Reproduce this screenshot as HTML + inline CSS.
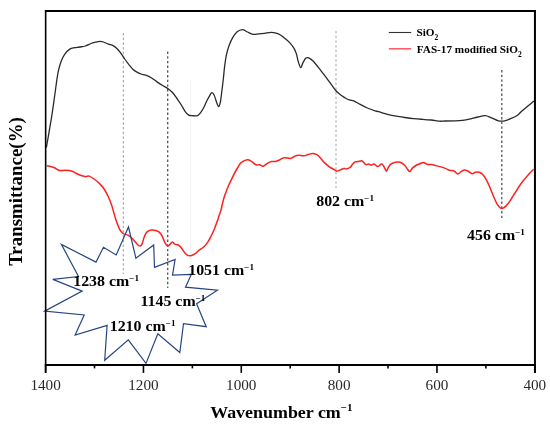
<!DOCTYPE html>
<html><head><meta charset="utf-8"><style>
html,body{margin:0;padding:0;background:#fff;}
svg{display:block;filter:blur(0.3px);}
text{font-family:"Liberation Serif","Times New Roman",serif;}
</style></head><body>
<svg width="550" height="425" viewBox="0 0 550 425">
<rect width="550" height="425" fill="#fff"/>
<g stroke-width="1" fill="none">
<line x1="123.3" y1="33" x2="123.3" y2="274" stroke="#9a9a9a" stroke-dasharray="2.4,2.3"/>
<line x1="167.7" y1="51.5" x2="167.7" y2="288" stroke="#555" stroke-width="1.3" stroke-dasharray="2.4,2.3"/>
<line x1="190.8" y1="80" x2="190.8" y2="265" stroke="#f3f3f3"/>
<line x1="336" y1="31" x2="336" y2="188" stroke="#a4a4a4" stroke-dasharray="2.4,2.3"/>
<line x1="501.8" y1="70" x2="501.8" y2="220" stroke="#555" stroke-width="1.3" stroke-dasharray="2.4,2.3"/>
</g>
<path d="M46.4,147.5 C46.8,145.0 48.2,137.3 49.0,132.4 C49.8,127.5 50.6,123.0 51.4,118.3 C52.1,113.6 52.9,108.5 53.5,104.1 C54.1,99.7 54.7,95.8 55.2,92.0 C55.7,88.2 56.1,85.2 56.6,81.6 C57.1,78.0 57.7,73.7 58.5,70.3 C59.3,66.9 60.2,63.8 61.3,61.1 C62.3,58.4 63.4,56.1 64.8,54.1 C66.2,52.1 68.1,50.2 69.8,49.1 C71.5,48.0 73.0,48.1 74.7,47.7 C76.4,47.4 77.9,47.3 79.7,47.0 C81.5,46.7 83.4,46.6 85.3,46.0 C87.2,45.4 89.3,44.1 91.0,43.5 C92.7,42.9 94.0,42.6 95.5,42.2 C97.0,41.8 98.6,41.3 99.9,41.3 C101.2,41.3 102.1,41.5 103.5,42.0 C104.9,42.5 106.8,43.5 108.4,44.1 C110.1,44.7 112.0,45.1 113.4,45.8 C114.8,46.5 115.7,47.3 116.9,48.4 C118.1,49.5 119.1,50.8 120.4,52.6 C121.7,54.4 123.3,57.0 124.7,59.0 C126.1,61.0 127.5,62.8 128.9,64.6 C130.3,66.3 131.7,68.2 133.1,69.5 C134.5,70.8 136.1,71.7 137.4,72.4 C138.7,73.2 139.6,73.5 141.0,74.0 C142.4,74.5 143.9,74.6 145.6,75.2 C147.3,75.8 149.4,76.6 151.3,77.7 C153.2,78.8 155.1,80.6 157.0,81.9 C158.9,83.2 160.7,84.4 162.6,85.5 C164.5,86.6 166.5,87.5 168.2,88.7 C169.8,89.9 171.1,90.9 172.5,92.5 C173.9,94.1 175.3,96.2 176.7,98.2 C178.1,100.2 179.6,102.3 181.0,104.5 C182.4,106.7 183.9,109.8 185.2,111.6 C186.5,113.4 187.5,114.4 188.7,115.1 C189.9,115.8 190.8,115.6 192.3,115.7 C193.8,115.8 196.2,116.1 197.6,115.6 C199.0,115.1 199.6,113.9 200.6,112.6 C201.6,111.3 202.4,110.0 203.5,108.0 C204.6,106.0 206.1,102.3 207.1,100.3 C208.1,98.3 208.6,97.5 209.4,96.2 C210.2,94.9 211.0,92.8 211.8,92.6 C212.6,92.4 213.3,93.4 214.1,95.0 C214.9,96.6 215.8,100.1 216.5,102.0 C217.2,103.9 217.9,106.5 218.6,106.5 C219.2,106.5 219.9,104.5 220.4,102.0 C220.9,99.5 221.3,95.2 221.8,91.5 C222.3,87.8 222.7,84.2 223.2,80.0 C223.7,75.8 224.1,70.7 224.6,66.6 C225.1,62.5 225.6,58.8 226.3,55.3 C227.1,51.8 228.0,48.3 229.1,45.4 C230.2,42.5 231.4,39.9 232.7,37.7 C234.0,35.5 235.3,33.4 236.9,32.0 C238.5,30.6 240.7,29.6 242.5,29.6 C244.3,29.6 245.7,31.2 247.5,32.0 C249.3,32.8 251.2,34.1 253.1,34.4 C255.0,34.7 256.9,34.0 258.8,33.8 C260.7,33.6 262.3,33.6 264.4,33.4 C266.5,33.2 269.0,32.3 271.3,32.4 C273.6,32.5 276.3,32.9 278.4,33.8 C280.5,34.7 282.1,36.2 284.0,37.7 C285.9,39.2 288.1,40.9 289.7,42.6 C291.3,44.4 292.8,46.3 293.9,48.2 C295.0,50.1 295.7,51.8 296.4,53.9 C297.1,56.0 297.4,58.7 298.1,61.0 C298.8,63.3 299.9,67.5 300.7,67.7 C301.5,67.9 302.2,64.0 303.1,62.4 C304.0,60.8 305.0,58.9 305.9,58.1 C306.8,57.4 307.5,57.4 308.7,57.9 C309.9,58.4 311.1,59.1 313.0,61.0 C314.9,62.9 317.6,66.4 319.8,69.2 C322.0,72.0 324.3,74.9 326.3,77.6 C328.3,80.3 330.4,83.2 332.0,85.4 C333.6,87.6 334.7,89.3 336.2,91.0 C337.7,92.7 339.5,94.0 341.1,95.3 C342.8,96.5 344.6,97.7 346.1,98.5 C347.6,99.3 349.0,99.8 350.3,100.2 C351.6,100.6 352.2,100.2 353.8,100.9 C355.4,101.6 357.9,103.2 360.2,104.4 C362.4,105.6 364.8,106.9 367.3,108.0 C369.8,109.1 373.1,110.2 375.0,110.8 C376.9,111.4 376.6,111.1 378.7,111.7 C380.8,112.3 384.6,113.6 387.5,114.3 C390.4,115.0 393.3,115.6 396.2,116.1 C399.1,116.6 402.0,117.1 404.9,117.5 C407.8,117.9 410.7,118.3 413.6,118.6 C416.5,118.9 419.5,119.1 422.4,119.3 C425.3,119.5 428.2,119.7 431.1,120.0 C434.0,120.3 437.5,121.0 439.8,121.2 C442.1,121.4 442.4,121.0 445.0,121.0 C447.6,121.0 452.5,121.0 455.4,120.9 C458.3,120.8 460.0,120.7 462.3,120.4 C464.6,120.1 466.6,119.8 469.2,119.2 C471.8,118.6 475.1,117.6 477.8,117.0 C480.5,116.4 482.8,115.6 485.1,115.7 C487.4,115.8 489.4,117.0 491.6,117.8 C493.8,118.6 496.3,120.3 498.5,120.8 C500.7,121.3 502.6,121.2 504.6,120.9 C506.6,120.6 508.5,119.7 510.6,118.7 C512.8,117.8 515.6,116.5 517.5,115.2 C519.4,113.9 520.2,112.4 521.9,110.9 C523.6,109.4 525.9,107.8 527.9,106.1 C529.9,104.4 532.9,101.8 533.9,100.9" fill="none" stroke="#2a2a2a" stroke-width="1.3" stroke-linejoin="round"/>
<path d="M46.8,165.8 C47.4,165.9 49.1,166.2 50.4,166.5 C51.7,166.8 53.1,167.0 54.6,167.7 C56.1,168.4 57.7,170.1 59.5,170.5 C61.3,170.9 63.1,170.1 65.2,170.2 C67.3,170.3 70.1,170.5 72.2,171.2 C74.3,171.9 75.8,173.4 77.9,174.3 C80.0,175.2 83.1,176.3 85.0,176.6 C86.9,176.9 87.7,175.7 89.2,176.1 C90.7,176.5 92.3,177.7 94.1,179.0 C95.9,180.3 98.1,182.2 99.8,183.9 C101.5,185.6 102.7,186.9 104.1,189.0 C105.5,191.1 107.0,193.9 108.2,196.5 C109.4,199.1 110.5,201.9 111.5,204.7 C112.5,207.4 113.1,210.2 113.9,213.0 C114.7,215.8 115.4,218.5 116.4,221.2 C117.4,223.9 118.6,227.3 119.7,229.4 C120.8,231.5 121.6,232.5 123.0,233.5 C124.4,234.5 126.3,234.2 128.0,235.2 C129.7,236.2 131.4,237.8 132.9,239.3 C134.4,240.8 136.0,243.1 137.2,244.2 C138.4,245.3 139.1,246.1 139.9,246.1 C140.7,246.1 141.4,245.4 142.1,243.9 C142.8,242.4 143.5,238.8 144.3,236.8 C145.1,234.8 145.8,233.0 147.0,231.9 C148.2,230.8 150.0,230.2 151.4,230.0 C152.8,229.8 154.3,230.1 155.7,230.5 C157.0,230.9 158.4,231.4 159.5,232.4 C160.6,233.4 161.4,234.6 162.3,236.3 C163.2,238.0 164.1,241.2 165.0,242.8 C165.9,244.4 166.8,245.9 167.7,246.1 C168.6,246.3 169.6,244.6 170.4,243.9 C171.2,243.2 171.9,241.9 172.6,242.0 C173.3,242.1 173.9,243.7 174.8,244.2 C175.7,244.7 177.0,244.4 178.1,245.0 C179.2,245.6 180.2,246.4 181.3,247.7 C182.4,249.0 183.5,251.3 184.6,252.6 C185.7,253.9 186.7,254.9 187.8,255.4 C188.9,255.9 190.1,255.8 191.4,255.5 C192.7,255.2 194.3,254.3 195.6,253.4 C196.9,252.5 197.8,251.1 199.1,250.1 C200.4,249.1 202.0,248.6 203.4,247.3 C204.8,246.0 206.3,244.3 207.6,242.4 C208.9,240.5 209.9,238.4 211.1,236.0 C212.3,233.6 213.5,231.1 214.7,228.2 C215.9,225.3 217.1,221.4 218.2,218.4 C219.2,215.4 220.3,212.5 221.0,209.9 C221.7,207.3 221.9,205.5 222.6,203.0 C223.2,200.5 223.9,197.9 224.9,195.1 C225.9,192.3 227.1,189.1 228.4,186.0 C229.7,182.9 231.3,179.6 232.7,176.8 C234.1,174.0 235.5,171.3 236.9,169.0 C238.3,166.7 239.3,164.2 241.1,162.7 C242.9,161.2 245.7,160.0 247.5,159.8 C249.3,159.6 250.3,160.9 251.7,161.7 C253.1,162.5 254.7,164.3 256.0,164.8 C257.3,165.3 258.3,164.6 259.5,164.8 C260.7,165.0 261.7,166.4 263.0,166.2 C264.3,166.0 265.9,164.2 267.3,163.4 C268.7,162.6 270.1,161.8 271.5,161.5 C272.9,161.2 274.2,161.8 275.6,161.5 C277.0,161.2 278.5,160.4 279.9,159.8 C281.3,159.2 282.3,157.9 284.1,157.7 C285.9,157.5 288.7,158.7 290.5,158.4 C292.3,158.2 293.4,156.7 294.7,156.2 C296.0,155.7 296.7,155.4 298.2,155.3 C299.7,155.2 302.2,155.9 303.9,155.8 C305.5,155.7 306.6,154.9 308.1,154.5 C309.6,154.1 311.6,153.3 313.1,153.4 C314.6,153.5 316.0,154.0 317.3,154.8 C318.6,155.6 319.6,157.1 320.8,158.4 C322.0,159.7 323.0,161.2 324.4,162.6 C325.8,164.0 327.9,165.7 329.4,166.8 C330.9,167.9 331.9,168.3 333.2,169.0 C334.5,169.7 335.8,171.0 337.0,171.2 C338.2,171.3 339.1,170.4 340.3,169.9 C341.5,169.4 343.1,168.6 344.1,168.4 C345.1,168.2 345.3,169.2 346.3,169.0 C347.3,168.8 349.1,168.1 350.1,167.4 C351.1,166.7 351.5,165.5 352.3,164.6 C353.1,163.7 354.1,162.4 355.0,161.9 C355.9,161.4 356.6,161.8 357.7,161.6 C358.8,161.4 360.6,160.8 361.5,160.8 C362.4,160.9 362.5,161.3 363.2,161.9 C363.9,162.5 365.0,164.2 365.9,164.6 C366.8,165.0 367.7,164.0 368.6,164.1 C369.5,164.2 370.4,165.2 371.3,165.2 C372.2,165.2 373.0,163.9 374.1,164.1 C375.2,164.3 376.6,166.6 377.8,166.6 C379.0,166.6 380.2,164.2 381.1,164.0 C382.0,163.8 382.6,164.5 383.2,165.2 C383.8,165.9 384.2,167.4 384.8,168.4 C385.4,169.4 385.9,171.3 386.5,171.2 C387.1,171.1 387.4,169.1 388.1,167.9 C388.8,166.7 389.7,165.0 390.8,164.1 C391.9,163.2 393.3,162.7 394.6,162.4 C395.9,162.1 397.2,162.0 398.4,162.1 C399.6,162.2 400.6,162.4 401.7,163.0 C402.8,163.6 404.0,164.6 405.0,165.7 C406.0,166.8 406.9,168.5 407.7,169.5 C408.5,170.5 409.1,171.8 409.9,171.5 C410.7,171.2 411.6,168.9 412.6,167.9 C413.6,166.9 414.7,166.2 415.9,165.5 C417.1,164.8 418.4,164.3 419.7,163.8 C421.0,163.3 422.2,162.3 423.5,162.4 C424.8,162.5 425.9,164.1 427.3,164.4 C428.7,164.7 430.5,164.3 431.7,164.4 C432.9,164.5 433.0,164.8 434.4,165.2 C435.8,165.6 438.0,166.1 439.8,166.6 C441.6,167.1 443.7,167.8 445.3,168.4 C446.9,169.0 448.2,169.9 449.6,170.3 C451.1,170.7 452.6,170.4 454.0,171.0 C455.4,171.6 456.6,173.8 457.8,173.9 C459.0,174.0 460.0,172.3 461.1,171.7 C462.2,171.1 463.2,170.2 464.4,170.1 C465.6,170.0 466.9,170.6 468.2,171.2 C469.5,171.8 470.8,173.5 472.0,173.7 C473.2,173.9 474.1,172.5 475.3,172.3 C476.5,172.1 477.9,172.0 479.1,172.3 C480.3,172.6 481.3,172.9 482.5,174.2 C483.7,175.4 485.2,177.6 486.4,179.8 C487.6,182.0 488.7,184.8 489.9,187.5 C491.1,190.2 492.2,193.3 493.4,196.0 C494.6,198.7 495.8,201.8 497.0,203.8 C498.2,205.8 499.6,207.2 500.5,208.0 C501.4,208.8 501.7,208.8 502.6,208.4 C503.5,208.1 504.8,207.2 506.1,205.9 C507.4,204.6 508.9,202.5 510.4,200.3 C511.9,198.1 513.6,195.1 515.3,192.5 C516.9,189.9 518.6,187.0 520.3,184.7 C521.9,182.3 523.7,180.3 525.2,178.4 C526.7,176.5 528.0,174.9 529.4,173.4 C530.8,171.9 533.0,169.9 533.7,169.2" fill="none" stroke="#ff2020" stroke-width="1.5" stroke-linejoin="round"/>
<polygon points="128.5,227.0 135.9,258.2 153.7,245.0 154.5,267.4 175.1,259.5 172.5,275.2 191.3,274.4 185.5,287.2 217.4,290.2 196.6,303.7 206.2,326.7 183.5,323.6 179.8,352.5 157.8,333.8 146.0,363.4 128.3,339.8 104.7,360.3 107.1,325.4 75.1,335.1 84.2,315.0 44.6,311.2 82.2,291.1 52.8,279.4 78.5,276.5 61.4,244.4 96.0,262.1 103.5,247.3 116.2,255.0" fill="none" stroke="#27467f" stroke-width="1.2" stroke-linejoin="miter"/>
<g font-weight="bold" font-size="14.6" fill="#000"><text transform="translate(316.2,206.0) scale(1.09,1)">802 cm<tspan font-size="8.4" dy="-4.6">−1</tspan></text><text transform="translate(467.0,240.0) scale(1.09,1)">456 cm<tspan font-size="8.4" dy="-4.6">−1</tspan></text><text transform="translate(73.2,285.5) scale(1.09,1)">1238 cm<tspan font-size="8.4" dy="-4.6">−1</tspan></text><text transform="translate(188.2,274.8) scale(1.09,1)">1051 cm<tspan font-size="8.4" dy="-4.6">−1</tspan></text><text transform="translate(140.4,306.0) scale(1.09,1)">1145 cm<tspan font-size="8.4" dy="-4.6">−1</tspan></text><text transform="translate(109.7,330.5) scale(1.09,1)">1210 cm<tspan font-size="8.4" dy="-4.6">−1</tspan></text></g>
<g stroke="#000"><line x1="44.9" y1="11.1" x2="535.9" y2="11.1" stroke-width="2"/><line x1="44.9" y1="364.9" x2="535.9" y2="364.9" stroke-width="2"/><line x1="45.65" y1="10.1" x2="45.65" y2="372.8" stroke-width="1.6"/><line x1="534.95" y1="10.1" x2="534.95" y2="372.8" stroke-width="2"/></g>
<g stroke="#000" stroke-width="1.6"><line x1="45.60" y1="364" x2="45.60" y2="372.9"/><line x1="94.52" y1="364" x2="94.52" y2="368.4"/><line x1="143.44" y1="364" x2="143.44" y2="372.9"/><line x1="192.36" y1="364" x2="192.36" y2="368.4"/><line x1="241.28" y1="364" x2="241.28" y2="372.9"/><line x1="290.20" y1="364" x2="290.20" y2="368.4"/><line x1="339.12" y1="364" x2="339.12" y2="372.9"/><line x1="388.04" y1="364" x2="388.04" y2="368.4"/><line x1="436.96" y1="364" x2="436.96" y2="372.9"/><line x1="485.88" y1="364" x2="485.88" y2="368.4"/><line x1="534.80" y1="364" x2="534.80" y2="372.9"/></g>
<g font-size="15.2" fill="#2a2a2a" text-anchor="middle"><text x="45.60" y="390">1400</text><text x="143.44" y="390">1200</text><text x="241.28" y="390">1000</text><text x="339.12" y="390">800</text><text x="436.96" y="390">600</text><text x="534.80" y="390">400</text></g>
<text transform="translate(281.4,417.8) scale(1.08,1)" font-size="16.6" font-weight="bold" text-anchor="middle">Wavenumber cm<tspan font-size="10.2" dy="-6.5">−1</tspan></text>
<text transform="translate(21.9,191.5) rotate(-90)" font-size="18.9" font-weight="bold" text-anchor="middle">Transmittance(%)</text>
<line x1="388.8" y1="32.5" x2="411.2" y2="32.5" stroke="#333" stroke-width="1.1"/>
<line x1="388.8" y1="48.8" x2="411.2" y2="48.8" stroke="#ff5560" stroke-width="1.5"/>
<g font-size="11.2" font-weight="bold">
<text x="416.5" y="36.3">SiO<tspan font-size="7.5" dy="3.4">2</tspan></text>
<text x="416.8" y="53.3">FAS-17 modified SiO<tspan font-size="7.5" dy="3.4">2</tspan></text>
</g>
</svg>
</body></html>
